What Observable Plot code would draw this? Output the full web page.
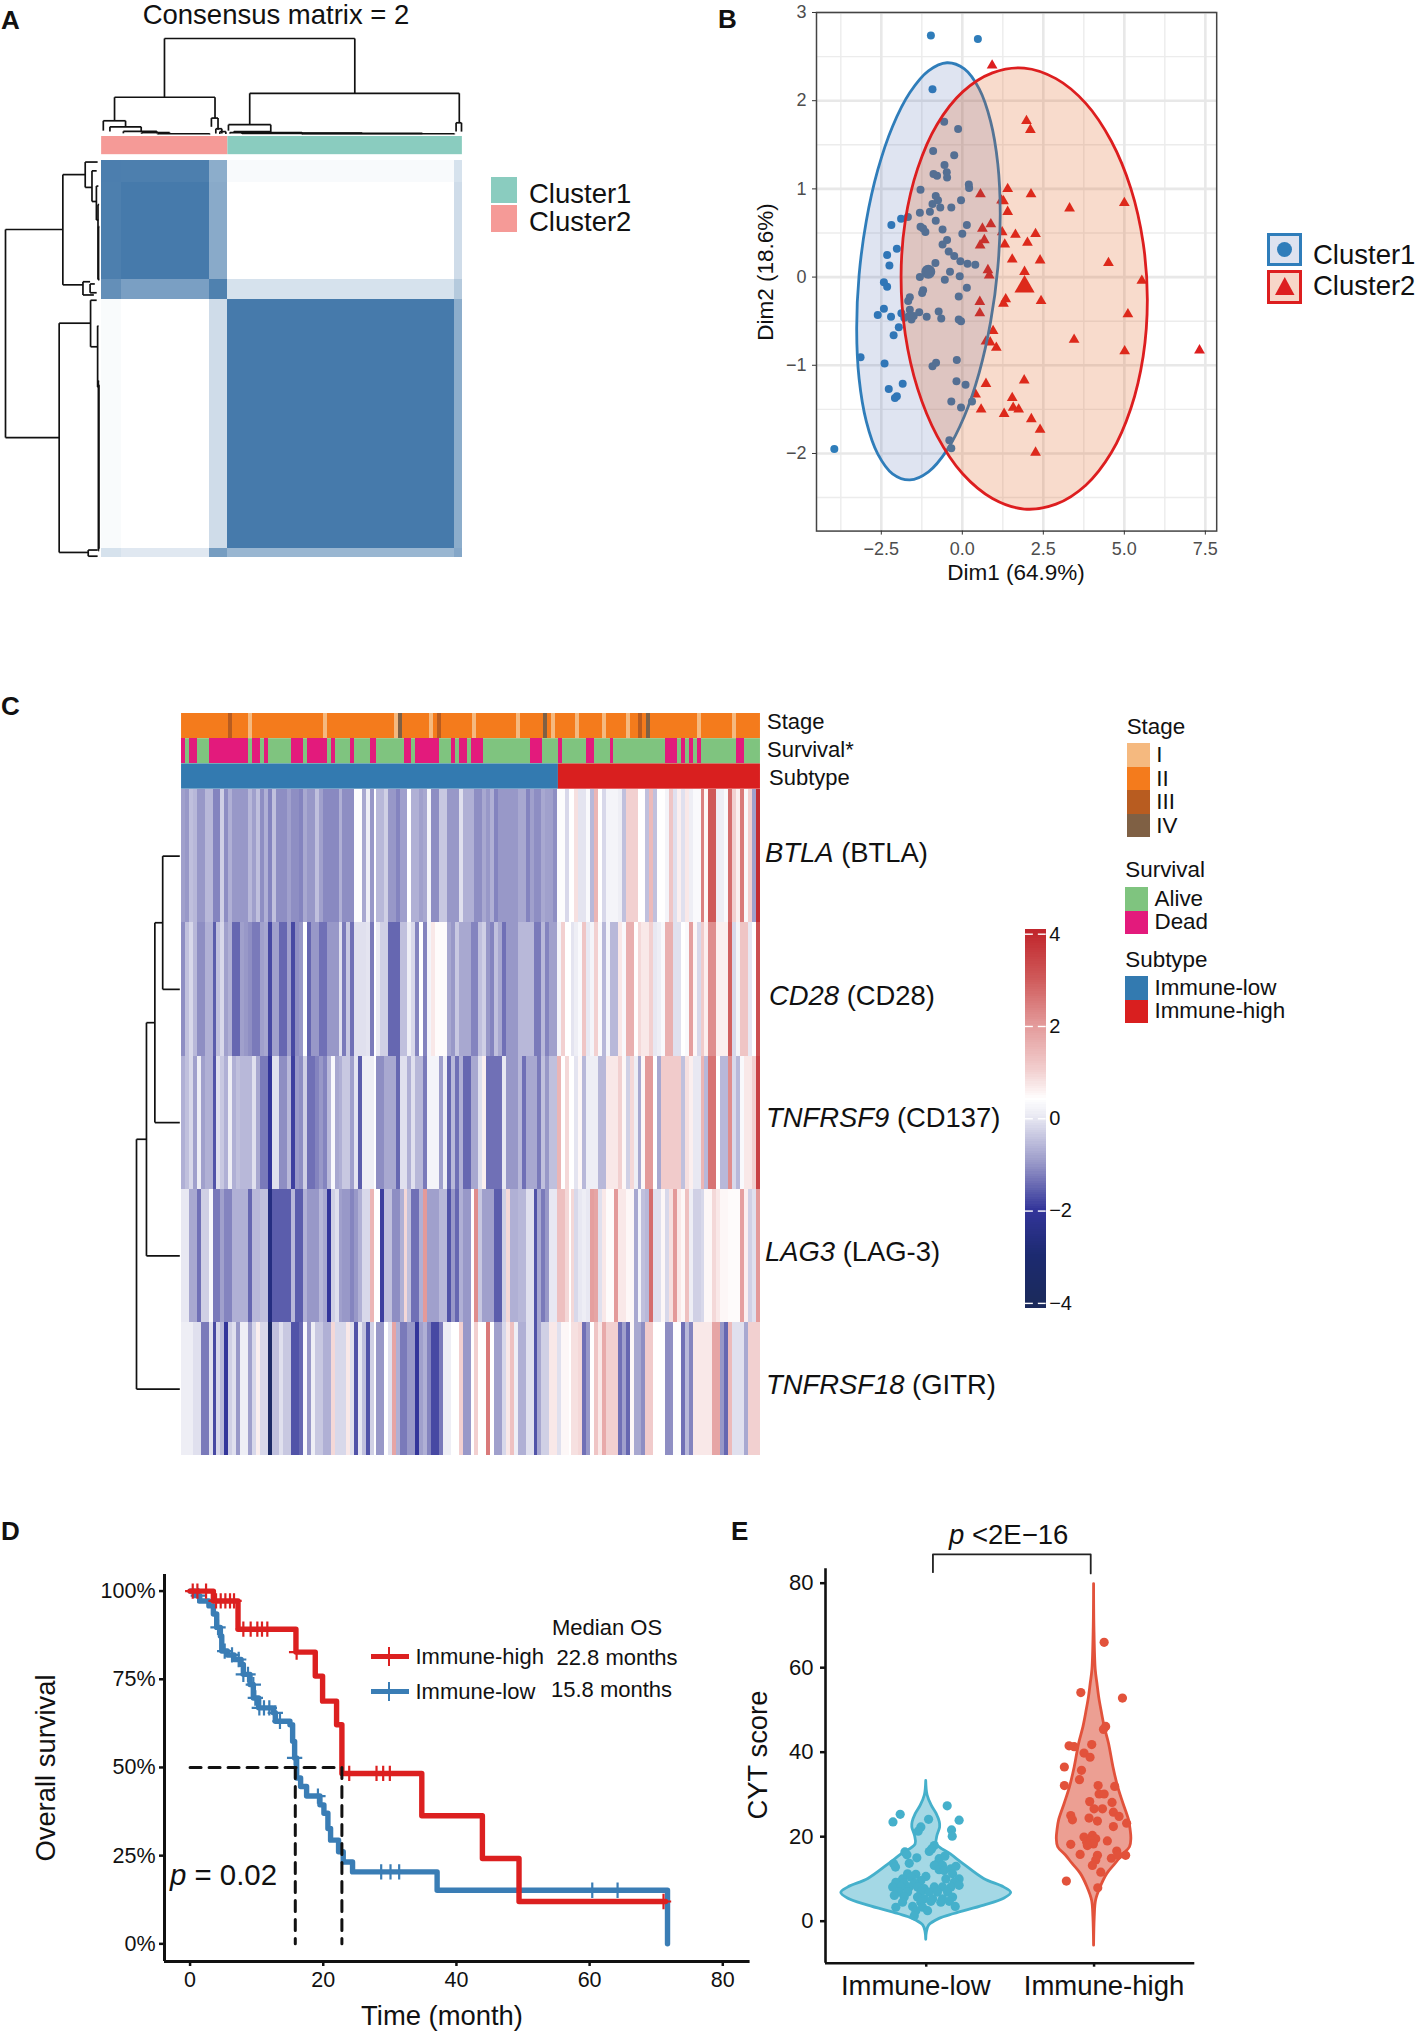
<!DOCTYPE html>
<html><head><meta charset="utf-8">
<script src="https://cdn.jsdelivr.net/npm/d3@7"></script>
<script src="https://cdn.jsdelivr.net/npm/@observablehq/plot@0.6"></script>
<style>
html,body{margin:0;padding:0;background:#fff}
#page{position:relative;width:1418px;height:2034px;overflow:hidden;font-family:"Liberation Sans",Arial,sans-serif;color:#111}
#page svg{overflow:visible;background:transparent}
.t{position:absolute;white-space:nowrap;line-height:1}
.s{position:absolute}
</style></head><body><div id="page"></div>
<script>
// ---------- Panel A: consensus matrix ----------
const sampleCount = 180;
const consensusEdges = [0, 10, 54, 63, 176, 180];
const consensusValues = [
  [.97, .96, .62, .04, .22],
  [.96, 1.0, .64, .00, .26],
  [.84, .72, .95, .22, .40],
  [.03, .00, .26, 1.0, .62],
  [.22, .17, .74, .55, .66]
];
const clusterBar = [[0, 63], [63, 180]];
// merges: low position, high position, height, height of low child, height of high child
const consensusTopMerges = [
  [31.4,126.3,1,.388,.429],[6.5,56.6,.388,.143,.171],[73.9,178.4,.429,.102,.122],
  [.9,12,.143,.04,.08],[4.2,19.8,.08,.03,.03],[10.9,27.6,.033,.012,.012],[20,34,.02,.008,.008],
  [54.8,58.1,.171,.08,.05],[57,60,.06,.01,.01],[59,62,.03,.005,.005],
  [63.3,84.4,.102,.04,.02],[64,100,.02,.01,.01],[70,160,.012,.005,.005],[100,176,.008,.003,.003],
  [176.8,179.5,.122,.03,.03],[28,54,.008,.002,.002],[66,84,.03,.015,.015],[84,130,.014,.006,.006]
];
const consensusLeftMerges = [
  [31.3,125.7,1,.39,.429],[6.4,56.4,.39,.152,.176],[73.8,177.8,.429,.095,.12],
  [.7,12.2,.152,.02,.08],[4.7,18.6,.08,.03,.033],[11.6,27,.033,.012,.012],[20,54,.016,.004,.004],
  [55,61,.176,.1,.06],[56,60,.1,.05,.03],
  [63.4,84.5,.095,.03,.02],[75,102.8,.02,.012,.012],[100,177,.012,.004,.004],[176.7,179.5,.12,.02,.02],[30,54,.01,.002,.002],[102,176,.006,.001,.001]
];

// ---------- Panel B: PCA ----------
const cluster1Points = [[-.97,2.74],[.48,2.70],[-.92,2.13],[-.56,1.76],[-.13,1.68],[-.90,1.43],[-.25,1.38],[-.55,1.27],[-.89,1.17],[-.78,1.15],[-.48,1.19],[-.47,1.13],[.20,1.05],[.21,1.01],[-1.29,.99],[-.82,.92],[-.75,.87],[-.92,.83],[-.04,.87],[-.68,.79],[-.34,.79],[-1.31,.73],[-1.00,.74],[-1.68,.68],[-1.89,.66],[-2.19,.59],[-.82,.64],[.14,.59],[-1.29,.57],[-1.21,.55],[-1.14,.51],[-.61,.54],[0,.49],[-.47,.42],[-.61,.37],[-2.02,.32],[-2.32,.25],[-.42,.29],[-.25,.24],[-.06,.18],[.16,.15],[.40,.14],[-2.25,.13],[-.83,.16],[-.38,.06],[-1.31,0],[-.08,.01],[-.54,-.03],[-2.42,-.06],[-2.32,-.11],[.14,-.12],[-1.21,-.15],[-1.24,-.18],[-.11,-.22],[-1.62,-.23],[-1.67,-.27],[-2.42,-.36],[-1.62,-.37],[-1.88,-.41],[-1.33,-.40],[-.73,-.39],[-2.61,-.43],[-2.20,-.45],[-1.79,-.46],[-1.64,-.44],[-1.50,-.44],[-1.57,-.48],[-1.10,-.45],[-.65,-.47],[-.11,-.48],[-.04,-.50],[-1.96,-.57],[-2.12,-.66],[-3.14,-.91],[-2.40,-.98],[-.17,-.94],[-.81,-.97],[-.92,-1.01],[-1.84,-1.21],[-.18,-1.18],[.10,-1.22],[-2.27,-1.27],[-2.02,-1.35],[-2.08,-1.37],[-.34,-1.41],[.30,-1.41],[-.04,-1.48],[-.40,-1.85],[-.34,-1.94],[-3.95,-1.95]];
const cluster2Points = [[.92,2.40],[1.98,1.77],[2.10,1.67],[.56,.94],[1.40,1.00],[2.12,.94],[1.27,.86],[1.21,.87],[1.40,.74],[3.31,.78],[5.00,.84],[.88,.60],[.62,.55],[1.23,.51],[1.64,.48],[2.26,.49],[.68,.42],[.55,.36],[1.31,.37],[2.01,.39],[1.54,.20],[2.40,.19],[4.51,.16],[.79,.08],[.83,.02],[1.92,.06],[5.54,-.04],[.54,-.28],[1.34,-.25],[1.27,-.30],[2.43,-.27],[5.11,-.42],[.54,-.41],[.95,-.61],[.73,-.73],[.86,-.74],[3.45,-.71],[1.05,-.80],[5.01,-.84],[7.32,-.83],[1.91,-1.17],[.73,-1.21],[.41,-1.33],[1.54,-1.37],[.58,-1.50],[1.57,-1.48],[1.74,-1.50],[1.29,-1.55],[2.13,-1.61],[2.40,-1.73],[2.26,-1.99]];
const cluster1Centroid = [[-1.05,.06]];
const cluster2Centroid = [[1.92,-.11]];
const cluster1Ellipse = [[1.17,.718],[1.095,1.283],[.873,1.766],[.521,2.134],[.063,2.36],[-.472,2.43],[-1.045,2.338],[-1.618,2.092],[-2.153,1.708],[-2.611,1.212],[-2.963,.637],[-3.185,.024],[-3.26,-.588],[-3.185,-1.153],[-2.963,-1.636],[-2.611,-2.004],[-2.153,-2.23],[-1.618,-2.30],[-1.045,-2.208],[-.472,-1.962],[.063,-1.578],[.521,-1.082],[.873,-.507],[1.095,.105]];
const cluster2Ellipse = [[5.71,-.26],[5.58,.39],[5.20,1.005],[4.60,1.54],[3.81,1.97],[2.89,2.25],[1.91,2.37],[.93,2.315],[.01,2.10],[-.78,1.73],[-1.38,1.23],[-1.76,.64],[-1.89,0],[-1.76,-.65],[-1.38,-1.265],[-.78,-1.80],[.01,-2.23],[.93,-2.51],[1.91,-2.63],[2.89,-2.575],[3.81,-2.36],[4.60,-1.99],[5.20,-1.49],[5.58,-.90]];
const pcaMajorX = [-2.5,0,2.5,5,7.5], pcaMinorX = [-3.75,-1.25,1.25,3.75,6.25];
const pcaMajorY = [-2,-1,0,1,2,3], pcaMinorY = [-2.5,-1.5,-.5,.5,1.5,2.5];

// ---------- Panel C: heatmap ----------
const heatColumns = 147;
const segmentStart = [0, 49.5, 98.9];
const genes = ["BTLA","CD28","TNFRSF9","LAG3","TNFRSF18"];
const proteins = ["BTLA","CD28","CD137","LAG-3","GITR"];
const btla = [
 [-.9,-1,-.5,-.6,-1,-1,-.6,-.6,-1.2,-1.2,-.3,-1.1,-.7,-1,-1,-1,-1,-.6,-.9,-.5,-1.1,-.7,-1.2,-.5,-1.1,-1.1,-1.1,-.9,-1.1,-1.1,-1.2,-.8,-1,-1,-.5,-.9,-1.15,-1.15,-1.15,-1.15,-.7,-1.1,-1.1,-1.1,.35,.35,-.8,.1,-1],
 [-.6,-.6,-.3,-1,-1,-1.2,-.9,-.9,.4,-.7,-.7,-.9,-.8,.2,-1.1,-1.1,-.4,-.4,-1,-1,-1,-.1,-.7,-.7,-.7,-1.1,-1.1,-.8,-1,-.7,-1.2,-1,-1,-1,-1,-1,-.8,-.8,-1.2,-.9,-1.1,-1.1,-.8,-.9,-.9,-1.1,.35,.35,-.2],
 [.4,.8,-.05,-.05,.3,-.6,1.5,.4,-.2,.2,.2,.2,.1,-.5,1,1,1,.4,.4,-.5,1.4,-.5,.4,.4,.2,1.2,-.1,.6,-.1,.7,.1,.3,.3,2.4,.5,3,3,.1,.1,.3,2.7,1,.6,2.5,.3,1,-.9,3.9]];
const cd28 = [
 [-1.1,-.5,-.2,-.6,-1.1,-1.1,-.7,-.7,-1.6,-.5,-.2,-.9,-.7,-1.5,-1.5,-.9,-1,-1.1,-1.3,-1.3,-.9,-.8,-1.8,-.9,-.9,-1.5,-1.5,-.9,-1.8,-1.1,-1,.4,-1.5,-1,-1,-1.4,-1.4,-1,-1,-1,-.1,-1.3,-.4,-1.4,-.1,-.1,-.1,-.05,-1.3],
 [0,-.3,-.3,-1.5,-1.5,-1.5,-.5,-.5,.1,-.2,-1.2,.4,-1.2,.2,.7,.45,.45,.45,-.8,-1,-.4,-.8,-.8,-.8,-1.2,-1.2,-.5,-.3,-1,-1.2,-.5,-.8,-1.4,-1,-1,-1,-.6,-.6,-.6,-.6,-1.3,-1.3,-.6,-1.2,-.9,-.9,.2,1,.4],
 [-.05,.1,.3,1.2,0,.2,1,.3,-.6,.2,-.6,-.6,.7,.3,1.6,1.6,.4,.9,.7,.7,1,0,.1,.3,1.6,1.6,-.1,-.1,.4,.3,1.9,.5,-.2,1.1,.6,2.2,2.2,.6,.6,.6,2.9,-.2,.2,1.2,1.2,0,.4,3.2]];
const tnfrsf9 = [
 [-.7,-.5,-.2,-.9,.1,-.9,-.7,-.7,-1.7,-.1,-.4,-.7,.1,-.7,-.5,-.6,-.6,-.6,-.1,-.8,-1.3,-1.3,-2,-.1,-.1,-1.1,-1.1,-.6,-1.9,-1,-1.1,-.3,-1.4,-1.4,-1.2,-1,-1.2,-.6,.3,-.8,-.7,-.4,-.4,-.9,-.05,-1.6,.1,.1,.1],
 [-1.1,-1.1,-.8,-.8,-.8,-1.5,-.1,-.1,-.7,-.1,-.6,-.6,-1.3,.2,.2,.2,-.9,.1,-1.5,-.6,-1.4,-.7,-1.5,-1.5,-.8,-.8,-.1,.6,-1.4,-1.4,-1.4,-1.4,0,-1,-1,-1,-.6,-1.4,-.8,-.8,-.8,-1.3,-.5,-1,-.5,-.5,1.5,.4,.9],
 [.4,-.05,.5,-.6,.1,.1,.1,-.6,-.6,.7,.7,.7,1,.5,-.3,.9,.1,-.8,.5,2,2,.4,-.8,1.1,1.1,1.1,1.1,1.1,-.5,.8,.6,0,0,1.5,-.6,2.6,2.6,.4,-.6,-.6,2.2,-.2,-.6,.3,.7,.7,1,3.5]];
const lag3 = [
 [0,0,-.8,-.8,-1.4,-.3,-.3,.3,-1.3,-1.3,-.9,-1.2,-1.2,-.7,-.7,-.7,-.7,-1.5,-.6,-.6,-.5,-.5,-2.6,-1.6,-1.6,-1.6,-1.6,-1.6,-.6,-1.6,-1.6,-.7,-1,-1,-1,-.6,-.8,-2,-.3,-.1,-.9,-1,-1,-1.2,-1,-.7,-.2,-.2,1.5],
 [.4,-1.9,-.5,-.5,-1.1,-1.1,-.7,.9,-.5,-1.4,-1.4,-.7,2,-.9,-.9,-.9,-.6,-.6,-1.7,-1,-1.5,-.7,-1,-1,.4,2.2,-.4,-.9,-.9,-.9,-1.6,-1.6,-.3,.9,-.7,-.7,-.6,-.6,-.1,-.1,-1.7,-.8,-1.3,-1,0,0,1.3,1.3,.9],
 [.9,-.2,0,.1,0,1.9,1.8,-.1,.7,.45,.45,2,.7,.7,.5,.5,-.8,.2,-.5,-.6,2.7,-.1,-.1,.5,-.2,.8,2,.7,.5,1.3,.1,-.3,-.3,-.2,.5,.5,.9,.7,.5,.5,.45,.45,.45,1.9,.6,-.3,-.1,2]];
const tnfrsf18 = [
 [.1,.1,.1,-.1,-.1,-1.3,-1.3,-.1,-1.8,-.2,-.6,-2,-.3,-.1,-1,.1,.1,-.9,-.2,.6,-.2,-.2,-3.5,-.5,-.5,-.1,-.4,-.4,-1.7,-1.7,-1.5,.3,-1,.1,-.4,-.4,-.7,-.7,.9,-.2,-.2,-.2,.7,-.1,-1.7,0,-.5,-1.7,-.3],
 [-1,-1,.4,-.1,1.8,-.7,-1.3,-1.3,-1,-1,-2,-.9,-.7,-1.2,-1.8,-1.8,-1.3,.1,.1,.4,.4,1,-1,-1,.4,1,.4,.4,2.5,.4,-.9,-.9,-.2,.7,1.3,.1,-.7,-.7,-.1,-.1,-1.7,-.8,-.3,-.3,.7,.7,-.1,.5,.5],
 [.8,.8,.9,-1.4,-1,.4,1.2,.7,1.7,1,1,1,-1.4,-.9,-1.5,.5,-.8,-.8,-1.1,1.1,1.1,.4,.4,.4,-1.1,-1.1,.35,.35,-1.4,-.6,-1.2,.7,.7,.7,.7,.7,1.8,1.8,-1,-1.5,1.4,-.1,-.1,-.1,-.8,1,1,1]];
const geneRows = [btla, cd28, tnfrsf9, lag3, tnfrsf18];
const geneMerges = [[.5,1.5,.395,0,0],[1,2.5,.576,.395,0],[1.75,3.5,.77,.576,0],[2.625,4.5,1,.77,0]];
const stageIColumns = [17,36,54,63,74,85,94,100,107,113,131,140];
const stageIIIColumns = [12,65,116];
const stageIVColumns = [55,92,118];
const deadRuns = [[0,1],[2,4],[7,17],[18,20],[21,22],[28,31],[32,37],[38,39],[43,44],[48,49.5],[56.5,58.4],[59.4,65.5],[68.6,69.6],[70.6,72.6],[73.6,76.6],[88.7,91.7],[95.7,96.7],[102.8,104.8],[108.8,109.8],[122.8,125.9],[126.9,127.9],[128.9,129.9],[130.9,132],[140.9,143]];
const subtypeBoundary = 95.7;
const heatDomain = [-4,-3,-2,-1,0,.4,1,2,3,4];
const heatRange = ["#1b2a5c","#1c2a70","#33359a","#9898c8","#e8e8f2","#ffffff","#f2d0d0","#e39a9a","#cf5a5a","#c1272d"];
const colorbarTicks = [-4,-2,0,2,4];

// ---------- Panel D: survival ----------
const highSteps = [[0,100],[3.5,97.2],[7.2,89.2],[15.9,82.7],[18.8,75.9],[19.9,68.8],[22,62.1],[22.8,48.3],[34.8,36.3],[43.9,24.2],[49.4,12],[71.4,12]];
const lowSteps = [[0,100],[.76,98.7],[1.45,97.2],[2.83,95.8],[3.5,93.5],[4,89.7],[4.55,87.3],[4.76,83],[5.6,81.9],[6.6,80.6],[7.66,79.2],[8,76.4],[9,73.5],[9.5,69.7],[10.3,66.9],[12.5,65.5],[12.8,63.1],[15,62.1],[15.4,57.4],[15.7,52.7],[16,47],[16.6,44.6],[17.5,41.9],[19.5,39.4],[20.1,37],[20.7,32.7],[21.1,29.4],[22.3,26.1],[23,23.2],[24.4,20.4],[37.1,15.2],[71.7,15.2],[71.7,0]];
const highCensored = [[.4,100],[1.1,100],[2.4,100],[3.9,97.2],[4.6,97.2],[5.3,97.2],[6,97.2],[6.6,97.2],[8,89.2],[9.1,89.2],[10.1,89.2],[10.8,89.2],[11.6,89.2],[16,82.7],[23.9,48.3],[28,48.3],[29,48.3],[30,48.3],[71.1,12]];
const lowCensored = [[1.24,98.7],[4.2,89.7],[5.2,83],[6.3,81.9],[7.3,80.6],[8,76.4],[8.7,76.4],[9.5,73.5],[9.8,69.7],[10.4,66.9],[11.1,66.9],[11.9,66.9],[12.8,65.5],[13.5,63.1],[15.7,52.7],[19.2,41.9],[28.7,20.4],[30.1,20.4],[31.4,20.4],[60.4,15.2],[64.2,15.2]];
const medianHigh = 22.8, medianLow = 15.8;
const survivalXTicks = [0,20,40,60,80], survivalYTicks = [0,25,50,75,100];

// ---------- Panel E: violins ----------
const lowViolin = [[33.2,0],[29.8,.008],[27.4,.032],[25.4,.062],[23.4,.081],[22.2,.083],[20.2,.067],[18.2,.063],[15.8,.147],[13.4,.226],[10,.345],[8,.464],[6.7,.506],[5.3,.464],[3.7,.345],[1.7,.167],[.55,.079],[-1,.018],[-2.6,.004],[-4.4,0]];
const highViolin = [[79.8,0],[69.7,.002],[59.4,.01],[56.2,.02],[53.1,.03],[49.9,.044],[46,.063],[42,.089],[36.5,.115],[31.8,.143],[27.8,.175],[23.9,.208],[21.5,.218],[19.5,.222],[17.5,.214],[15.6,.169],[13.6,.129],[11.2,.079],[8.1,.04],[4.9,.012],[.9,.004],[-5.8,0]];
const lowScores = [[.845,25.3],[.802,23.5],[1.125,27.3],[1.196,23.9],[1.151,21.6],[1.155,20.1],[1.014,24.1],[.968,22.3],[.952,21.3],[1.048,17.9],[1.032,17.1],[1.018,16.5],[.873,16.4],[.885,15.7],[.944,15],[.899,13.7],[.806,13.6],[.817,12.8],[1.077,14.8],[1.111,15.4],[1.067,13.6],[1.048,13.2],[1.097,13.2],[1.077,12.2],[1.107,12],[1.147,12.4],[1.177,13],[1.157,11.2],[.889,11.2],[.938,11.1],[.998,10.6],[.859,10],[.909,10.4],[.968,9.6],[1.117,10],[1.196,10],[.819,9.2],[.869,9],[.929,9],[1.167,9.2],[.8,8.1],[.849,8.1],[.899,8.1],[.948,8.1],[.988,7.7],[1.048,8.1],[1.097,8.1],[1.147,8.1],[1.196,8.5],[.839,6.9],[.889,6.9],[.968,6.9],[1.018,6.9],[1.067,6.9],[1.127,6.9],[.81,6.1],[.869,5.7],[.948,5.7],[.988,5.3],[1.038,5.3],[1.097,5.3],[1.157,5.7],[.859,4.5],[.968,4.5],[1.028,4.7],[1.087,4.5],[1.137,4.7],[.819,3.3],[.919,3.5],[.978,3.3],[1.173,3.5],[.938,2.5],[1.008,2.5],[.929,1.3]];
const highScores = [[2.06,66],[1.921,54.1],[2.169,52.8],[2.069,46.1],[2.056,45.4],[1.851,41.5],[1.881,41.3],[1.986,41.8],[1.94,39.8],[1.976,38.8],[1.823,36.5],[1.925,35.7],[1.913,33.5],[1.823,32.1],[2.024,32.1],[2.123,31.9],[2.03,30.1],[2.06,30.1],[1.974,28.3],[2.107,28.1],[2,26.6],[2.05,26.6],[2.115,25.8],[1.861,25],[1.871,24],[1.97,24.4],[2.02,23.7],[2.149,24.8],[2.194,23.2],[2.115,22.4],[1.99,20.3],[1.94,19.9],[1.956,18.7],[2.01,19.5],[1.98,19.1],[1.996,18.3],[1.96,17.9],[1.861,18.2],[2.079,19],[1.917,15.8],[2.02,15.6],[2.135,16.6],[2.188,15.6],[2.103,14.9],[2.01,14.5],[1.99,13.2],[2.04,11.6],[1.835,9.5],[2.022,7.9],[2.143,15.6]];
const scoreTicks = [0,20,40,60,80];
const bracket = [[1.04,82.6],[1.04,86.8],[1.98,86.8],[1.98,82.3]];

// ---------- helpers ----------
const page = document.getElementById("page");
const FONT = '"Liberation Sans", Arial, sans-serif';
function panel(box, m, opts) {
  const [ml, mt, mr, mb] = m;
  const el = Plot.plot({
    width: box.right - box.left + ml + mr,
    height: box.bottom - box.top + mt + mb,
    marginLeft: ml, marginTop: mt, marginRight: mr, marginBottom: mb,
    style: {fontFamily: FONT, background: "transparent", color: "#111"},
    ...opts
  });
  el.style.position = "absolute";
  el.style.left = (box.left - ml) + "px";
  el.style.top = (box.top - mt) + "px";
  page.appendChild(el);
  return el;
}
function text(html, x, y, o = {}) {
  const d = document.createElement("div");
  d.className = "t";
  d.innerHTML = html;
  d.style.left = x + "px";
  d.style.top = y + "px";
  d.style.fontSize = (o.size || 22) + "px";
  if (o.bold) d.style.fontWeight = "bold";
  if (o.color) d.style.color = o.color;
  const ax = o.anchor === "middle" ? "-50%" : o.anchor === "end" ? "-100%" : "0";
  d.style.transform = `translate(${ax},-50%)`;
  page.appendChild(d);
}
function vtext(s, x, y, size) {
  const d = document.createElement("div");
  d.className = "t";
  d.textContent = s;
  d.style.left = x + "px"; d.style.top = y + "px"; d.style.fontSize = size + "px";
  d.style.transform = "translate(-50%,-50%) rotate(-90deg)";
  page.appendChild(d);
}
function swatch(x1, y1, x2, y2, fill, extra = "") {
  const d = document.createElement("div");
  d.className = "s";
  d.style.cssText = `left:${x1}px;top:${y1}px;width:${x2 - x1}px;height:${y2 - y1}px;background:${fill};${extra}`;
  page.appendChild(d);
}
const links = merges => merges.flatMap(([a, b, h, ha, hb]) => [
  {p1: a, h1: h, p2: b, h2: h}, {p1: a, h1: ha, p2: a, h2: h}, {p1: b, h1: hb, p2: b, h2: h}
]);

// ---------- Panel A ----------
const consensusCells = consensusValues.flatMap((row, r) => row.map((v, c) => ({
  x1: consensusEdges[c], x2: consensusEdges[c + 1], y1: consensusEdges[r], y2: consensusEdges[r + 1], v
})));
panel({left: 101, top: 160, right: 462, bottom: 556.8}, [0, 0, 0, 0], {
  x: {axis: null, domain: [0, sampleCount]}, y: {axis: null, domain: [sampleCount, 0]},
  color: {type: "linear", domain: [0, 1], range: ["#ffffff", "#467aab"]},
  marks: [Plot.rect(consensusCells, {x1: "x1", x2: "x2", y1: "y1", y2: "y2", fill: "v", shapeRendering: "crispEdges"})]
});
panel({left: 101, top: 136, right: 462, bottom: 154.2}, [0, 0, 0, 0], {
  x: {axis: null, domain: [0, sampleCount]}, y: {axis: null, domain: [0, 1]},
  marks: [
    Plot.rect([clusterBar[0]], {x1: d => d[0], x2: d => d[1], y1: () => 0, y2: () => 1, fill: "#f59a97"}),
    Plot.rect([clusterBar[1]], {x1: d => d[0], x2: d => d[1], y1: () => 0, y2: () => 1, fill: "#8accbf"})
  ]
});
panel({left: 101, top: 38, right: 462, bottom: 134}, [0, 2, 0, 0], {
  x: {axis: null, domain: [0, sampleCount]}, y: {axis: null, domain: [0, 1]},
  marks: [Plot.link(links(consensusTopMerges), {x1: "p1", y1: "h1", x2: "p2", y2: "h2", stroke: "#111", strokeWidth: 1.7})]
});
panel({left: 5, top: 160, right: 99, bottom: 556.8}, [0, 0, 0, 0], {
  x: {axis: null, domain: [1, 0]}, y: {axis: null, domain: [sampleCount, 0]},
  marks: [Plot.link(links(consensusLeftMerges), {y1: "p1", x1: "h1", y2: "p2", x2: "h2", stroke: "#111", strokeWidth: 1.7})]
});
text("Consensus matrix = 2", 276, 15, {size: 27.5, anchor: "middle"});
swatch(491, 177, 516.5, 203, "#8accbf");
swatch(491, 205, 516.5, 231.5, "#f59a97");
text("Cluster1", 529, 193.5, {size: 27.5});
text("Cluster2", 529, 222, {size: 27.5});
text("A", 1, 20, {size: 26, bold: true});

// ---------- Panel B ----------
const BLUE = "#2f7dba", RED = "#dd1e1f";
panel({left: 815.8, top: 12.2, right: 1216, bottom: 530.8}, [50, 0, 0, 30], {
  x: {domain: [-4.5, 7.85]}, y: {domain: [-2.88, 3]},
  marks: [
    Plot.ruleX(pcaMinorX, {stroke: "#ececec", strokeWidth: 1.4}),
    Plot.ruleY(pcaMinorY, {stroke: "#ececec", strokeWidth: 1.4}),
    Plot.ruleX(pcaMajorX, {stroke: "#e8e8e8", strokeWidth: 2.6}),
    Plot.ruleY(pcaMajorY, {stroke: "#e8e8e8", strokeWidth: 2.6}),
    Plot.dot(cluster2Points, {x: "0", y: "1", symbol: "triangle", r: 4, fill: RED}),
    Plot.dot(cluster2Centroid, {x: "0", y: "1", symbol: "triangle", r: 7.5, fill: RED}),
    Plot.dot(cluster1Points, {x: "0", y: "1", r: 4, fill: BLUE}),
    Plot.dot(cluster1Centroid, {x: "0", y: "1", r: 7, fill: BLUE}),
    Plot.line(cluster1Ellipse, {x: "0", y: "1", curve: "catmull-rom-closed", fill: "#3754a7", fillOpacity: .16, stroke: BLUE, strokeWidth: 2.8}),
    Plot.line(cluster2Ellipse, {x: "0", y: "1", curve: "catmull-rom-closed", fill: "#de5410", fillOpacity: .21, stroke: RED, strokeWidth: 2.8}),
    Plot.frame({stroke: "#444", strokeWidth: 1.5}),
    Plot.axisX(pcaMajorX, {label: null, tickSize: 4, tickPadding: 7, fontSize: 18, stroke: "#333", fill: "#4d4d4d", tickFormat: d3.format(".1f")}),
    Plot.axisY(pcaMajorY, {label: null, tickSize: 4, tickPadding: 6, fontSize: 18, stroke: "#333", fill: "#4d4d4d", tickFormat: d3.format("d")})
  ]
});
text("Dim1 (64.9%)", 1016, 573, {size: 22.5, anchor: "middle"});
vtext("Dim2 (18.6%)", 766, 272, 22.5);
swatch(1267, 233.4, 1302, 266, "#dde2ef", "box-sizing:border-box;border:3px solid " + BLUE);
swatch(1267, 270, 1302, 303.5, "#f7d6c8", "box-sizing:border-box;border:3px solid " + RED);
swatch(1277, 242, 1292, 257, BLUE, "border-radius:50%");
swatch(1275, 277, 1294.5, 295, RED, "clip-path:polygon(50% 0,100% 100%,0 100%)");
text("Cluster1", 1313, 254.5, {size: 27.5});
text("Cluster2", 1313, 286, {size: 27.5});
text("B", 718, 19, {size: 26, bold: true});

// ---------- Panel C ----------
const STAGE = ["#f5b97f", "#f47b1c", "#b85c20", "#7f6044"];
const ALIVE = "#7fc47f", DEAD = "#e31a7c", LOW = "#337ab0", HIGH = "#d91f1f";
const bar = (cols, fill, y) => Plot.rect(cols, {x1: d => d, x2: d => d + 1, y1: () => y, y2: () => y + 1, fill, shapeRendering: "crispEdges"});
panel({left: 180.8, top: 713.3, right: 759.8, bottom: 789}, [0, 0, 0, 0], {
  x: {axis: null, domain: [0, heatColumns]}, y: {axis: null, domain: [3, 0]},
  marks: [
    Plot.rect([[0, heatColumns]], {x1: "0", x2: "1", y1: () => 0, y2: () => 1, fill: STAGE[1]}),
    bar(stageIColumns, STAGE[0], 0), bar(stageIIIColumns, STAGE[2], 0), bar(stageIVColumns, STAGE[3], 0),
    Plot.rect([[0, heatColumns]], {x1: "0", x2: "1", y1: () => 1, y2: () => 2, fill: ALIVE}),
    Plot.rect(deadRuns, {x1: "0", x2: "1", y1: () => 1, y2: () => 2, fill: DEAD, shapeRendering: "crispEdges"}),
    Plot.rect([[0, subtypeBoundary]], {x1: "0", x2: "1", y1: () => 2, y2: () => 3, fill: LOW}),
    Plot.rect([[subtypeBoundary, heatColumns]], {x1: "0", x2: "1", y1: () => 2, y2: () => 3, fill: HIGH})
  ]
});
const heatCells = geneRows.flatMap((segs, r) => segs.flatMap((vals, s) => vals.map((v, j) => ({
  c1: segmentStart[s] + j, c2: Math.min(heatColumns, segmentStart[s] + j + 1.05), r, v
}))));
const heatScale = {type: "linear", domain: heatDomain, range: heatRange, clamp: true};
panel({left: 180.8, top: 789, right: 759.8, bottom: 1455.3}, [0, 0, 0, 0], {
  x: {axis: null, domain: [0, heatColumns]}, y: {axis: null, domain: [5, 0]},
  color: heatScale,
  marks: [Plot.rect(heatCells, {x1: "c1", x2: "c2", y1: "r", y2: d => d.r + 1, fill: "v", shapeRendering: "crispEdges"})]
});
panel({left: 135.7, top: 789, right: 179, bottom: 1455.3}, [0, 0, 0, 0], {
  x: {axis: null, domain: [1, 0]}, y: {axis: null, domain: [5, 0]},
  marks: [Plot.link(links(geneMerges), {y1: "p1", x1: "h1", y2: "p2", x2: "h2", stroke: "#111", strokeWidth: 1.7})]
});
const colorbarLevels = d3.range(-4.1, 4.08, .05);
panel({left: 1025, top: 929.8, right: 1045.7, bottom: 1307.4}, [0, 0, 30, 0], {
  x: {axis: null, domain: [0, 1]}, y: {domain: [-4.1, 4.08]},
  color: heatScale,
  marks: [
    Plot.rect(colorbarLevels, {x1: () => 0, x2: () => 1, y1: d => d, y2: d => d + .06, fill: d => d, shapeRendering: "crispEdges"}),
    Plot.ruleY(colorbarTicks, {x1: () => 0, x2: () => .38, stroke: "#fff", strokeWidth: 1.4}),
    Plot.ruleY(colorbarTicks, {x1: () => .62, x2: () => 1, stroke: "#fff", strokeWidth: 1.4}),
    Plot.axisY(colorbarTicks, {anchor: "right", label: null, tickSize: 0, tickPadding: 3, fontSize: 20, tickFormat: d3.format("d")})
  ]
});
const geneX = [765, 769, 766, 765, 766], geneY = [853, 996, 1118, 1252, 1385];
genes.forEach((g, i) => text(`<i>${g}</i> (${proteins[i]})`, geneX[i], geneY[i], {size: 27.4}));
text("Stage", 767, 722, {size: 22});
text("Survival*", 767, 749.5, {size: 22});
text("Subtype", 769, 777.5, {size: 22});
text("Stage", 1126.7, 726.5, {size: 22.4});
const stageEdges = [743.1, 766.8, 790.4, 814, 837.3], stageLabels = ["I", "II", "III", "IV"];
stageLabels.forEach((s, i) => {
  swatch(1126.7, stageEdges[i], 1150, stageEdges[i + 1], STAGE[i]);
  text(s, 1156.2, (stageEdges[i] + stageEdges[i + 1]) / 2, {size: 22.4});
});
text("Survival", 1125.3, 869.7, {size: 22.4});
swatch(1124.7, 887, 1148.3, 910.7, ALIVE); swatch(1124.7, 910.7, 1148.3, 934.4, DEAD);
text("Alive", 1154.5, 898.7, {size: 22.4}); text("Dead", 1154.5, 922, {size: 22.4});
text("Subtype", 1125.3, 959.7, {size: 22.4});
swatch(1124.7, 976.3, 1148.3, 1000, LOW); swatch(1124.7, 1000, 1148.3, 1023.2, HIGH);
text("Immune-low", 1154.5, 988, {size: 22.4}); text("Immune-high", 1154.5, 1011, {size: 22.4});
text("C", 1, 706, {size: 26, bold: true});

// ---------- Panel D ----------
const KM_RED = "#dc2020", KM_BLUE = "#3a7db5";
panel({left: 164.4, top: 1573.5, right: 750, bottom: 1960.5}, [70, 0, 0, 40], {
  x: {domain: [-3.84, 84.1]}, y: {domain: [-5, 104.7]},
  marks: [
    Plot.line(lowSteps, {x: "0", y: "1", curve: "step-after", stroke: KM_BLUE, strokeWidth: 5.4}),
    Plot.dot(lowCensored, {x: "0", y: "1", symbol: "plus", r: 5, stroke: KM_BLUE, strokeWidth: 2.2}),
    Plot.line(highSteps, {x: "0", y: "1", curve: "step-after", stroke: KM_RED, strokeWidth: 5.4}),
    Plot.dot(highCensored, {x: "0", y: "1", symbol: "plus", r: 5, stroke: KM_RED, strokeWidth: 2.2}),
    Plot.line([[0, 50], [medianHigh, 50]], {x: "0", y: "1", stroke: "#111", strokeWidth: 3, strokeDasharray: "11 8"}),
    Plot.line([[medianLow, 50], [medianLow, 0]], {x: "0", y: "1", stroke: "#111", strokeWidth: 3, strokeDasharray: "11 8"}),
    Plot.line([[medianHigh, 50], [medianHigh, 0]], {x: "0", y: "1", stroke: "#111", strokeWidth: 3, strokeDasharray: "11 8"}),
    Plot.ruleX([-3.84], {stroke: "#111", strokeWidth: 3}),
    Plot.ruleY([-5], {stroke: "#111", strokeWidth: 3}),
    Plot.axisX(survivalXTicks, {label: null, tickSize: 5, tickPadding: 5, fontSize: 21.5, strokeWidth: 2.5, stroke: "#111", fill: "#111", tickFormat: d3.format("d")}),
    Plot.axisY(survivalYTicks, {label: null, tickSize: 5, tickPadding: 4, fontSize: 21.5, strokeWidth: 2.5, stroke: "#111", fill: "#111", tickFormat: d => d + "%"})
  ]
});
text("Time (month)", 442, 2016, {size: 27.4, anchor: "middle"});
vtext("Overall survival", 46, 1768, 27.4);
text("Median OS", 552, 1628, {size: 22});
swatch(371, 1653.8, 408.6, 1659.2, KM_RED); swatch(388, 1647, 390.4, 1666, KM_RED);
swatch(371, 1688.9, 408.6, 1694.3, KM_BLUE); swatch(388, 1682, 390.4, 1701, KM_BLUE);
text("Immune-high", 415.5, 1657, {size: 22}); text("22.8 months", 556.5, 1657.7, {size: 22});
text("Immune-low", 415.5, 1692, {size: 22}); text("15.8 months", 551, 1690, {size: 22});
text("<i>p</i> = 0.02", 170, 1874.5, {size: 29.4});
text("D", 1, 1531, {size: 26, bold: true});

// ---------- Panel E ----------
const V_LOW = "#45b0cb", V_HIGH = "#e2523b";
const violin = (rows, center) => rows.map(([v, w]) => ({v, a: center - w, b: center + w}));
panel({left: 825, top: 1551, right: 1194.3, bottom: 1962.7}, [50, 0, 0, 50], {
  x: {domain: [.4, 2.6]}, y: {domain: [-9.94, 87.5]},
  marks: [
    Plot.areaX(violin(lowViolin, 1), {x1: "a", x2: "b", y: "v", curve: "catmull-rom", fill: "#a4d8e5", stroke: V_LOW, strokeWidth: 2.8}),
    Plot.areaX(violin(highViolin, 2), {x1: "a", x2: "b", y: "v", curve: "catmull-rom", fill: "#ec9f93", stroke: V_HIGH, strokeWidth: 2.8}),
    Plot.dot(lowScores, {x: "0", y: "1", r: 4.6, fill: V_LOW}),
    Plot.dot(highScores, {x: "0", y: "1", r: 4.6, fill: V_HIGH}),
    Plot.line(bracket, {x: "0", y: "1", stroke: "#222", strokeWidth: 1.8}),
    Plot.ruleX([.4], {y1: -9.94, y2: 83.4, stroke: "#111", strokeWidth: 2.6}),
    Plot.ruleY([-9.94], {x1: .4, x2: 2.6, stroke: "#111", strokeWidth: 2.6}),
    Plot.axisX([1, 2], {label: null, tickSize: 4, tickFormat: () => "", strokeWidth: 2.5, stroke: "#111"}),
    Plot.axisY(scoreTicks, {label: null, tickSize: 5, tickPadding: 7, fontSize: 22, strokeWidth: 2.5, stroke: "#111", fill: "#111", tickFormat: d3.format("d")})
  ]
});
text("Immune-low", 915.8, 1986, {size: 27.5, anchor: "middle"});
text("Immune-high", 1104, 1986, {size: 27.5, anchor: "middle"});
vtext("CYT score", 757.7, 1755, 27.4);
text("<i>p</i> &lt;2E\u221216", 949, 1535, {size: 27.5});
text("E", 731, 1531, {size: 26, bold: true});
</script></body></html>
